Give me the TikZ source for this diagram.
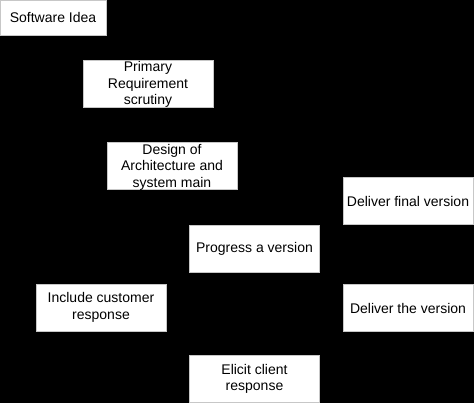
\documentclass[tikz,border=0pt]{standalone}
\usepackage{fontspec}
\setmainfont{Liberation Sans}
\begin{document}
\begin{tikzpicture}[x=1pt,y=-1pt,
  boxshape/.style={draw=black!22,line width=0.8pt,fill=white,minimum width=#1,minimum height=47pt,inner sep=0pt,outer sep=0pt,anchor=center},
  boxshape/.default=130pt,
  lbl/.style={align=center,font=\fontsize{14pt}{16.5pt}\selectfont,inner sep=0pt,text=black}]
\useasboundingbox[fill=black] (0,0) rectangle (474,403);
% boxes
\node[boxshape=106pt,minimum height=35pt] (idea) at (53,17.5) {};
\node[boxshape] (prim) at (148,83.5) {};
\node[boxshape] (design) at (172,166) {};
\node[boxshape] (final) at (408,201) {};
\node[boxshape] (prog) at (254.5,248.5) {};
\node[boxshape] (incl) at (101,307.5) {};
\node[boxshape] (deliv) at (408,308) {};
\node[boxshape] (elicit) at (254.5,379) {};
% labels
\node[lbl] (tidea) at (idea) {Software Idea};
\node[lbl] (tprim) at (148,84.5) {Primary\\Requirement\\scrutiny};
\node[lbl] (tdesign) at (172,167) {Design of\\Architecture and\\system main};
\node[lbl] (tfinal) at (final) {Deliver final version};
\node[lbl] (tprog) at (prog) {Progress a version};
\node[lbl] (tincl) at (incl) {Include customer\\response};
\node[lbl] (tdeliv) at (deliv) {Deliver the version};
\node[lbl] (telicit) at (elicit) {Elicit client\\response};
\end{tikzpicture}
\end{document}
